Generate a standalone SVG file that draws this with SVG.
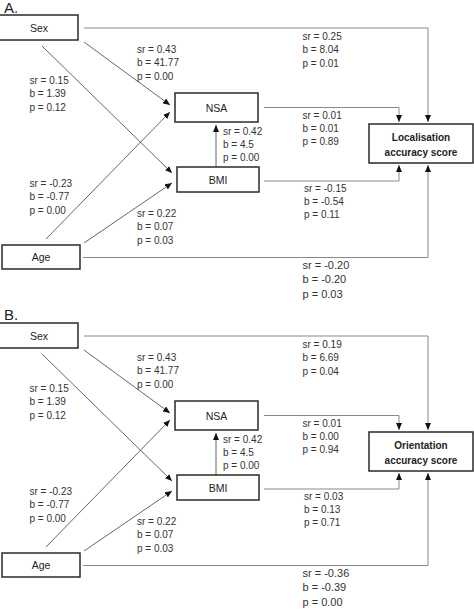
<svg xmlns="http://www.w3.org/2000/svg" width="474" height="610" viewBox="0 0 474 610">
<defs>
<style>
.box{fill:#fff;stroke:#2a2a2a;stroke-width:1.5}
.nt{font-family:"Liberation Sans",Arial,sans-serif;font-size:10.5px;fill:#222;text-anchor:middle}
.bt{font-family:"Liberation Sans",Arial,sans-serif;font-size:10px;font-weight:bold;fill:#222;text-anchor:middle}
.lb{font-family:"Liberation Sans",Arial,sans-serif;font-size:10px;fill:#333}
.lb2{font-family:"Liberation Sans",Arial,sans-serif;font-size:11px;fill:#333}
.pt{font-family:"Liberation Sans",Arial,sans-serif;font-size:15px;fill:#222}
.ln{fill:none;stroke:#888;stroke-width:1;marker-end:url(#ah)}
.dg{fill:none;stroke:#555;stroke-width:0.9;marker-end:url(#ah)}
</style>
<marker id="ah" markerUnits="userSpaceOnUse" markerWidth="7" markerHeight="6" refX="7" refY="3" orient="auto">
<path d="M0,0 L7,3 L0,6 z" fill="#111"/>
</marker>
</defs>
<rect width="474" height="610" fill="#fff"/>

<g id="panelA">
<text class="pt" x="4" y="12.5">A.</text>
<g id="A-connectors">
<path class="ln" d="M84,28 H428 V122"/>
<path class="dg" d="M84,42 L170,105"/>
<path class="dg" d="M42,46 L172,173"/>
<path class="dg" d="M46,239 L170,112"/>
<path class="dg" d="M84,243 L172,183"/>
<path class="dg" d="M216,167 V125"/>
<path class="ln" d="M264,107.5 H399 V122"/>
<path class="ln" d="M264,181 H399 V165"/>
<path class="ln" d="M83,257.5 H428 V165"/>
</g>
<g id="A-sex"><rect class="box" x="-1" y="15" width="79" height="25"/><text class="nt" x="39" y="31.5">Sex</text></g>
<g id="A-age"><rect class="box" x="2" y="245" width="78" height="24"/><text class="nt" x="41" y="261">Age</text></g>
<g id="A-nsa"><rect class="box" x="175" y="93" width="83" height="29"/><text class="nt" x="216.5" y="111.5">NSA</text></g>
<g id="A-bmi"><rect class="box" x="177" y="167" width="82" height="25"/><text class="nt" x="218" y="183.5">BMI</text></g>
<g id="A-loc"><rect class="box" x="369" y="124" width="104" height="39"/><text class="bt" x="421" y="140.5">Localisation</text><text class="bt" x="421" y="155.5">accuracy score</text></g>
<g id="A-labels">
<text class="lb" x="137" y="52.5">sr = 0.43</text><text class="lb" x="137" y="66">b = 41.77</text><text class="lb" x="137" y="79.5">p = 0.00</text>
<text class="lb" x="29.5" y="84">sr = 0.15</text><text class="lb" x="29.5" y="97">b = 1.39</text><text class="lb" x="29.5" y="110.5">p = 0.12</text>
<text class="lb" x="302.5" y="40">sr = 0.25</text><text class="lb" x="302.5" y="53">b = 8.04</text><text class="lb" x="302.5" y="66.5">p = 0.01</text>
<text class="lb" x="302.5" y="119">sr = 0.01</text><text class="lb" x="302.5" y="132">b = 0.01</text><text class="lb" x="302.5" y="145">p = 0.89</text>
<text class="lb" x="223" y="135">sr = 0.42</text><text class="lb" x="223" y="148">b = 4.5</text><text class="lb" x="223" y="161">p = 0.00</text>
<text class="lb" x="29.5" y="187">sr = -0.23</text><text class="lb" x="29.5" y="200">b = -0.77</text><text class="lb" x="29.5" y="214">p = 0.00</text>
<text class="lb" x="137" y="217">sr = 0.22</text><text class="lb" x="137" y="230">b = 0.07</text><text class="lb" x="137" y="244">p = 0.03</text>
<text class="lb" x="304" y="192">sr = -0.15</text><text class="lb" x="304" y="205">b = -0.54</text><text class="lb" x="304" y="218">p = 0.11</text>
<text class="lb2" x="302.5" y="269">sr = -0.20</text><text class="lb2" x="302.5" y="283">b = -0.20</text><text class="lb2" x="302.5" y="297.5">p = 0.03</text>
</g>
</g>

<g id="panelB" transform="translate(0,308)">
<text class="pt" x="4" y="11.5">B.</text>
<g id="B-connectors">
<path class="ln" d="M84,28 H428 V122"/>
<path class="dg" d="M84,42 L170,105"/>
<path class="dg" d="M42,46 L172,173"/>
<path class="dg" d="M46,239 L170,112"/>
<path class="dg" d="M84,243 L172,183"/>
<path class="dg" d="M216,167 V125"/>
<path class="ln" d="M264,107.5 H399 V122"/>
<path class="ln" d="M264,181 H399 V165"/>
<path class="ln" d="M83,257.5 H428 V165"/>
</g>
<g id="B-sex"><rect class="box" x="-1" y="15" width="79" height="25"/><text class="nt" x="39" y="31.5">Sex</text></g>
<g id="B-age"><rect class="box" x="2" y="245" width="78" height="24"/><text class="nt" x="41" y="261">Age</text></g>
<g id="B-nsa"><rect class="box" x="175" y="93" width="83" height="29"/><text class="nt" x="216.5" y="111.5">NSA</text></g>
<g id="B-bmi"><rect class="box" x="177" y="167" width="82" height="25"/><text class="nt" x="218" y="183.5">BMI</text></g>
<g id="B-ori"><rect class="box" x="369" y="124" width="104" height="39"/><text class="bt" x="421" y="140.5">Orientation</text><text class="bt" x="421" y="155.5">accuracy score</text></g>
<g id="B-labels">
<text class="lb" x="137" y="52.5">sr = 0.43</text><text class="lb" x="137" y="66">b = 41.77</text><text class="lb" x="137" y="79.5">p = 0.00</text>
<text class="lb" x="29.5" y="84">sr = 0.15</text><text class="lb" x="29.5" y="97">b = 1.39</text><text class="lb" x="29.5" y="110.5">p = 0.12</text>
<text class="lb" x="302.5" y="40">sr = 0.19</text><text class="lb" x="302.5" y="53">b = 6.69</text><text class="lb" x="302.5" y="66.5">p = 0.04</text>
<text class="lb" x="302.5" y="119">sr = 0.01</text><text class="lb" x="302.5" y="132">b = 0.00</text><text class="lb" x="302.5" y="145">p = 0.94</text>
<text class="lb" x="223" y="135">sr = 0.42</text><text class="lb" x="223" y="148">b = 4.5</text><text class="lb" x="223" y="161">p = 0.00</text>
<text class="lb" x="29.5" y="187">sr = -0.23</text><text class="lb" x="29.5" y="200">b = -0.77</text><text class="lb" x="29.5" y="214">p = 0.00</text>
<text class="lb" x="137" y="217">sr = 0.22</text><text class="lb" x="137" y="230">b = 0.07</text><text class="lb" x="137" y="244">p = 0.03</text>
<text class="lb" x="304" y="192">sr = 0.03</text><text class="lb" x="304" y="205">b = 0.13</text><text class="lb" x="304" y="218">p = 0.71</text>
<text class="lb2" x="302.5" y="269">sr = -0.36</text><text class="lb2" x="302.5" y="283">b = -0.39</text><text class="lb2" x="302.5" y="297.5">p = 0.00</text>
</g>
</g>
</svg>
